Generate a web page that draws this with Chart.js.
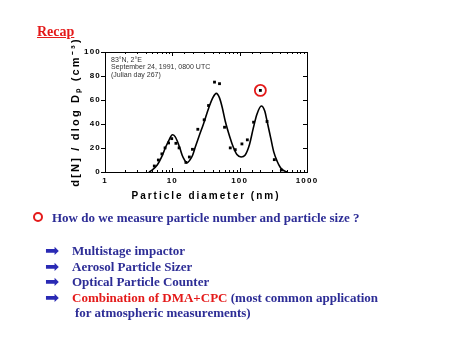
<!DOCTYPE html>
<html>
<head>
<meta charset="utf-8">
<script src="https://cdn.jsdelivr.net/npm/chart.js@4.4.1/dist/chart.umd.min.js"></script>
<style>
    html, body { margin: 0; padding: 0; background: #ffffff; }
    body { width: 474px; height: 355px; position: relative; overflow: hidden; }
    #sizeChart { position: absolute; left: 0; top: 0; }
    .slide { position: absolute; white-space: nowrap; font-family: "Liberation Serif", "Times New Roman", serif; font-weight: bold; font-size: 13px; line-height: 13px; color: #2d2d96; }
    .arrow { position: absolute; left: 45px; font-family: "DejaVu Sans", sans-serif; font-size: 17px; line-height: 13px; color: #2a2ab4; }
    .red { color: #e41a1a; }
    .note { position: absolute; left: 111px; top: 56px; font-family: "Liberation Sans", Arial, sans-serif; font-size: 7px; line-height: 7.4px; color: #333333; white-space: nowrap; }
    .ring { position: absolute; left: 33px; top: 212px; width: 6px; height: 6px; border: 2px solid #e41a1a; border-radius: 50%; }
</style>
</head>
<body>
<canvas id="sizeChart" width="474" height="355"></canvas>

<div class="slide red" style="left:37px; top:25px; font-size:14px; line-height:14px; text-decoration:underline;">Recap</div>

<div class="note">83°N, 2°E<br>September 24, 1991, 0800 UTC<br>(Julian day 267)</div>

<div class="ring"></div>
<div class="slide" style="left:52px; top:211px;">How do we measure particle number and particle size ?</div>

<div class="arrow" style="top:244px;">➡</div>
<div class="slide" style="left:72px; top:244px;">Multistage impactor</div>
<div class="arrow" style="top:259.5px;">➡</div>
<div class="slide" style="left:72px; top:259.5px;">Aerosol Particle Sizer</div>
<div class="arrow" style="top:275px;">➡</div>
<div class="slide" style="left:72px; top:275px;">Optical Particle Counter</div>
<div class="arrow" style="top:290.8px;">➡</div>
<div class="slide" style="left:72px; top:290.8px;"><span class="red">Combination of DMA+CPC</span> (most common application</div>
<div class="slide" style="left:75px; top:306.4px;">for atmospheric measurements)</div>

<script>
// Measured size distribution (dots), diameter in nm
const measuredDiameter = [5.4, 6.2, 7.0, 7.8, 8.8, 9.8, 11.3, 12.6, 15.9, 17.9, 19.9, 23.9, 29.7, 34.5,
    42.3, 50.2, 59.6, 72.5, 86, 108, 130, 161, 203, 255, 327, 416];
const measuredCount = [5.0, 10.0, 15.1, 20.1, 24.2, 27.8, 23.9, 20.1, 8.0, 12.5, 18.9, 35.6, 43.5, 55.4,
    74.9, 73.6, 37.3, 20.1, 18.6, 23.4, 26.8, 41.5, 68, 42.1, 10.3, 1.7];

// Fitted three-mode curve
const fitDiameter = [4.5, 5, 6, 7, 8, 9, 10, 11, 12, 13, 14, 15, 16.4, 18, 20, 22, 25, 29, 35, 40, 45,
    50, 55, 61, 72, 80, 91, 105, 120, 140, 160, 180, 210, 235, 255, 290, 320, 360, 400, 430, 480, 520];
const fitCount = [0, 1.5, 6, 13, 21, 27, 31, 29.5, 25, 19.5, 14, 10.5, 7.5, 9.5, 14, 21, 30, 40, 54, 62, 65.5,
    62, 54, 42.5, 28.5, 21, 14.5, 12.5, 14, 23, 37, 48, 55, 51, 42.5, 28, 17, 9, 4, 2, 0.5, 0];

// Highlighted point (red ring)
const markedDiameter = [203];
const markedCount = [68];

// Axis ticks
const xTickLabels = [1, 10, 100, 1000];
const yTickLabels = [0, 20, 40, 60, 80, 100];

const tickFont = { family: "'Liberation Sans', Arial, sans-serif", size: 8, weight: 'bold' };

function isDecade(v) {
    const e = Math.round(Math.log10(v));
    return Math.abs(v - Math.pow(10, e)) < 1e-6;
}

// The old plot uses widely spaced lettering, canvas letterSpacing does that
function spaceTitle(scale, spacing) {
    if (scale._spacedTitle) return;
    const orig = scale.drawTitle;
    scale.drawTitle = function() {
        const prev = this.ctx.letterSpacing;
        this.ctx.letterSpacing = spacing;
        orig.call(this);
        this.ctx.letterSpacing = prev;
    };
    scale._spacedTitle = true;
}

// Frame with small tick marks on every side
const framePlugin = {
    id: 'frame',
    beforeDraw(chart) {
        chart.ctx.letterSpacing = '1.2px';
        spaceTitle(chart.scales.x, '2px');
        spaceTitle(chart.scales.y, '2.2px');
    },
    afterDraw(chart) {
        const { ctx, chartArea: a, scales: { x, y } } = chart;
        ctx.save();
        ctx.letterSpacing = '0px';
        ctx.strokeStyle = '#000000';
        ctx.lineWidth = 1;
        ctx.strokeRect(a.left + 0.5, a.top + 0.5, a.right - a.left, a.bottom - a.top);
        ctx.beginPath();
        x.ticks.forEach(t => {
            const px = Math.round(x.getPixelForValue(t.value)) + 0.5;
            const len = isDecade(t.value) ? 4 : 2;
            ctx.moveTo(px, a.bottom);
            ctx.lineTo(px, a.bottom - len);
            ctx.moveTo(px, a.top);
            ctx.lineTo(px, a.top + len);
        });
        y.ticks.forEach(t => {
            const py = Math.round(y.getPixelForValue(t.value)) + 0.5;
            const len = t.value % 20 === 0 ? 4 : 2;
            ctx.moveTo(a.left - len, py);
            ctx.lineTo(a.left, py);
            ctx.moveTo(a.right, py);
            ctx.lineTo(a.right - len, py);
        });
        ctx.stroke();
        ctx.restore();
        ctx.letterSpacing = '0px';
    }
};

const ctx = document.getElementById('sizeChart').getContext('2d');

new Chart(ctx, {
    type: 'scatter',
    data: {
        datasets: [
            {
                label: 'fit',
                data: fitDiameter.map((d, i) => ({ x: d, y: fitCount[i] })),
                showLine: true,
                borderColor: '#000000',
                borderWidth: 1.6,
                pointRadius: 0,
                cubicInterpolationMode: 'monotone',
                order: 3
            },
            {
                label: 'measured',
                data: measuredDiameter.map((d, i) => ({ x: d, y: measuredCount[i] })),
                pointStyle: 'rect',
                pointRadius: 2,
                backgroundColor: '#000000',
                borderWidth: 0,
                order: 2
            },
            {
                label: 'marked',
                data: markedDiameter.map((d, i) => ({ x: d, y: markedCount[i] })),
                pointStyle: 'circle',
                pointRadius: 5.5,
                backgroundColor: 'rgba(0,0,0,0)',
                borderColor: '#e41a1a',
                borderWidth: 1.8,
                order: 1
            }
        ]
    },
    options: {
        responsive: false,
        animation: false,
        devicePixelRatio: 1,
        layout: { padding: { left: 69, top: 52, right: 167, bottom: 153 } },
        plugins: {
            legend: { display: false },
            tooltip: { enabled: false }
        },
        scales: {
            x: {
                type: 'logarithmic',
                min: 1,
                max: 1000,
                afterFit: s => { s.height = 30; },
                grid: { display: false, drawTicks: false },
                border: { display: false },
                ticks: {
                    autoSkip: false,
                    maxRotation: 0,
                    padding: 4,
                    color: '#000000',
                    font: tickFont,
                    callback: v => xTickLabels.includes(v) ? String(v) : ''
                },
                title: {
                    display: true,
                    text: 'Particle diameter (nm)',
                    color: '#000000',
                    font: { family: "'Liberation Sans', Arial, sans-serif", size: 10, weight: 'bold' },
                    padding: 0
                }
            },
            y: {
                min: 0,
                max: 100,
                afterFit: s => { s.width = 36; },
                grid: { display: false, drawTicks: false },
                border: { display: false },
                ticks: {
                    stepSize: 10,
                    padding: 4,
                    color: '#000000',
                    font: tickFont,
                    callback: v => yTickLabels.includes(v) ? String(v) : ''
                },
                title: {
                    display: true,
                    text: 'd[N] / dlog Dₚ (cm⁻³)',
                    color: '#000000',
                    font: { family: "'Liberation Sans', Arial, sans-serif", size: 11, weight: 'bold' },
                    padding: 0
                }
            }
        }
    },
    plugins: [framePlugin]
});
</script>
</body>
</html>
